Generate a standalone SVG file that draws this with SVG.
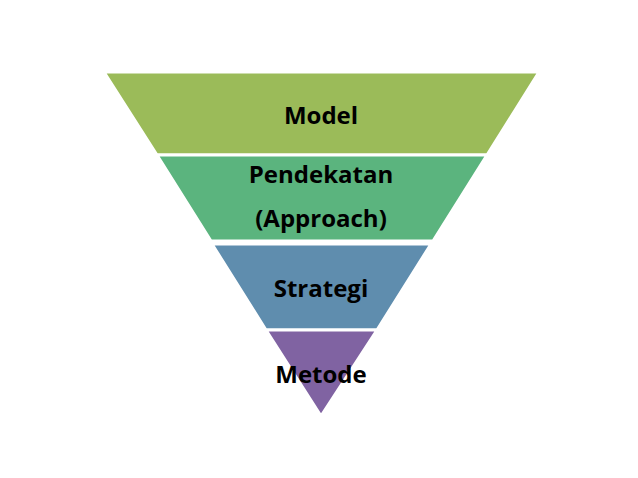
<svg xmlns="http://www.w3.org/2000/svg" width="638" height="478" viewBox="0 0 638 478">
<style>
.b{stroke:#fff;stroke-width:3}
text{font-family:"Open Sans","Liberation Sans",sans-serif;font-weight:bold;font-size:24px;fill:#000;text-anchor:middle}
</style>
<rect width="638" height="478" fill="#fff"/>
<g id="model"><polygon class="b" fill="#9BBB59" points="104,72 539,72 487,155 157,155"/><text x="321" y="124">Model</text></g>
<g id="pendekatan"><polygon class="b" fill="#5BB47E" points="157,155 487,155 433,241 211,241"/><text x="321" y="183">Pendekatan</text><text x="321" y="227">(Approach)</text></g>
<g id="strategi"><polygon class="b" fill="#5F8DAE" points="212,244 431,244 377,330 266,330"/><text x="321" y="297">Strategi</text></g>
<g id="metode"><polygon class="b" fill="#8063A2" points="266,330 377,330 321,416"/><text x="321" y="383">Metode</text></g>
</svg>
